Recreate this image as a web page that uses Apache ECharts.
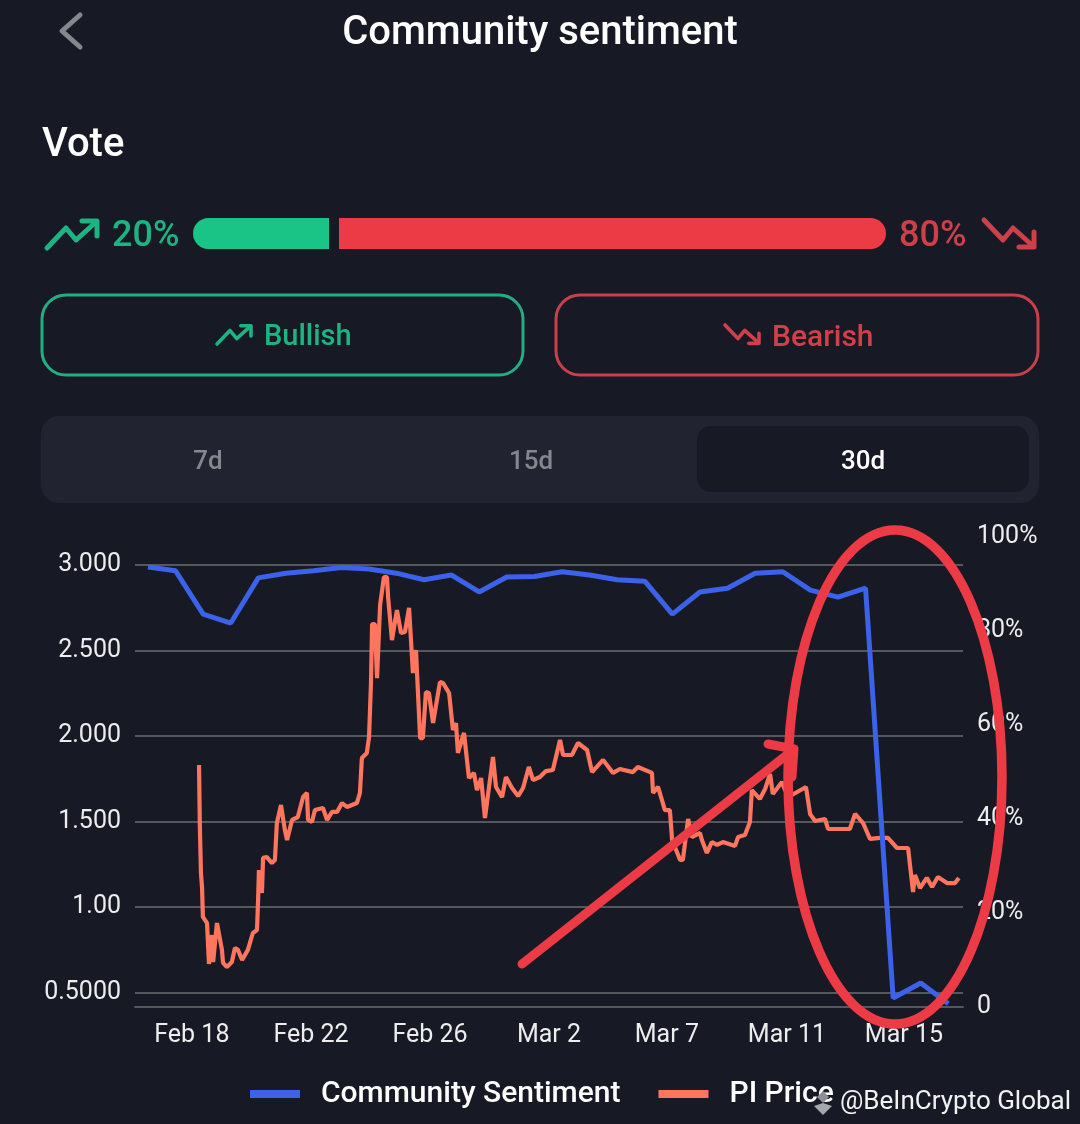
<!DOCTYPE html>
<html>
<head>
<meta charset="utf-8">
<title>Community sentiment</title>
<style>
  html, body { margin: 0; padding: 0; background: #171925; }
  #main { width: 1080px; height: 1124px; }
</style>
<script src="https://cdn.jsdelivr.net/npm/echarts@6/dist/echarts.min.js"></script>
</head>
<body>
<div id="main"></div>
<script>
// x ticks sit between the daily points, days are counted from the first vote
const xTickDays = [1.59, 5.91, 10.22, 14.53, 18.80, 23.15, 27.39];
const xTickLabels = ['Feb 18', 'Feb 22', 'Feb 26', 'Mar 2', 'Mar 7', 'Mar 11', 'Mar 15'];
const priceTicks = [0.5, 1, 1.5, 2, 2.5, 3];
const priceTickLabels = ['0.5000', '1.00', '1.500', '2.000', '2.500', '3.000'];

const sentiment = [93.6, 92.8, 83.6, 81.7, 91.3, 92.3, 92.8, 93.5, 93.2, 92.3,
  90.9, 91.9, 88.3, 91.5, 91.6, 92.6, 91.9, 90.9, 90.6, 83.6,
  88.3, 89.1, 92.3, 92.6, 88.7, 87.2, 89.1, 1.9, 5.1, 0.7];

const priceDays = [1.85, 1.88, 1.92, 1.96, 1.99, 2.14, 2.21, 2.32, 2.36, 2.50, 2.54, 2.68, 2.72, 2.86, 3.04, 3.15, 3.26, 3.41, 3.62, 3.80,
  3.95, 3.99, 4.02, 4.13, 4.17, 4.31, 4.49, 4.60, 4.67, 4.82, 4.89, 4.96, 5.04, 5.22, 5.43, 5.62, 5.76, 5.80, 5.94, 6.05,
  6.34, 6.49, 6.67, 6.85, 7.03, 7.21, 7.57, 7.68, 7.75, 7.93, 8.01, 8.08, 8.12, 8.22, 8.30, 8.41, 8.55, 8.66, 8.70, 8.84,
  9.02, 9.17, 9.31, 9.46, 9.53, 9.60, 9.71, 9.75, 9.86, 9.96, 10.07, 10.18, 10.33, 10.40, 10.58, 10.69, 10.91, 11.05, 11.16, 11.23,
  11.45, 11.63, 11.81, 11.92, 12.07, 12.21, 12.50, 12.61, 12.83, 12.97, 13.19, 13.41, 13.59, 13.80, 13.95, 14.20, 14.42, 14.67, 14.93, 15.04,
  15.36, 15.58, 15.91, 16.09, 16.49, 16.85, 17.10, 17.57, 17.75, 18.26, 18.30, 18.48, 18.73, 18.91, 18.99, 19.28, 19.38, 19.57, 19.71, 20.00,
  20.07, 20.25, 20.43, 20.62, 20.83, 21.27, 21.38, 21.63, 21.81, 21.88, 22.17, 22.36, 22.54, 22.64, 22.97, 23.08, 23.33, 23.84, 23.99, 24.17,
  24.53, 24.64, 25.43, 25.62, 25.91, 26.16, 26.52, 26.81, 27.14, 27.54, 27.72, 27.79, 27.97, 28.22, 28.41, 28.62, 28.95, 29.24, 29.38];
const priceValues = [1.830, 1.468, 1.199, 1.111, 0.942, 0.906, 0.667, 0.836, 0.678, 0.906, 0.906, 0.749, 0.673, 0.649, 0.678, 0.760, 0.749, 0.690, 0.749, 0.848,
  0.865, 1.041, 1.216, 1.082, 1.287, 1.292, 1.257, 1.275, 1.491, 1.596, 1.596, 1.450, 1.392, 1.509, 1.526, 1.643, 1.667, 1.509, 1.497, 1.567,
  1.579, 1.509, 1.556, 1.556, 1.608, 1.585, 1.608, 1.667, 1.871, 1.901, 1.994, 2.310, 2.655, 2.655, 2.339, 2.766, 2.930, 2.930, 2.813, 2.561,
  2.737, 2.602, 2.608, 2.749, 2.749, 2.368, 2.503, 2.503, 1.988, 1.988, 2.257, 2.251, 2.076, 2.082, 2.316, 2.310, 2.251, 2.035, 2.076, 1.901,
  2.018, 1.754, 1.784, 1.684, 1.754, 1.520, 1.877, 1.702, 1.643, 1.760, 1.696, 1.649, 1.696, 1.819, 1.743, 1.760, 1.795, 1.801, 1.977, 1.889,
  1.889, 1.959, 1.918, 1.789, 1.860, 1.784, 1.807, 1.789, 1.819, 1.784, 1.667, 1.702, 1.567, 1.567, 1.392, 1.275, 1.275, 1.515, 1.409, 1.433,
  1.392, 1.316, 1.380, 1.363, 1.380, 1.357, 1.409, 1.421, 1.497, 1.684, 1.632, 1.690, 1.778, 1.661, 1.731, 1.684, 1.655, 1.702, 1.544, 1.503,
  1.515, 1.456, 1.456, 1.544, 1.491, 1.398, 1.404, 1.404, 1.345, 1.345, 1.088, 1.187, 1.111, 1.170, 1.117, 1.175, 1.140, 1.140, 1.170];

const BG = '#171925';
const GREEN = '#19C586';
const RED = '#EC3B45';
const UI_FONT = 'Roboto';

function text(str, x, y, size, color, weight, align) {
  return {
    type: 'text',
    z: 20,
    style: {
      text: str, x: x, y: y + Math.round(size * 0.08), fill: color,
      font: (weight || 500) + ' ' + size + 'px ' + UI_FONT,
      align: align || 'left', verticalAlign: 'middle'
    }
  };
}

function stroke(type, shape, color, width, z) {
  return {
    type: type,
    z: z || 20,
    shape: shape,
    style: { fill: 'none', stroke: color, lineWidth: width, lineCap: 'round', lineJoin: 'round' }
  };
}

function box(x, y, w, h, r, fill) {
  return { type: 'rect', z: 10, shape: { x: x, y: y, width: w, height: h, r: r }, style: { fill: fill } };
}

// small trend arrows, drawn in a 50 wide, 28 high box and flipped for the bearish one
function trendIcon(x, y, scale, color, down) {
  const place = function (p) {
    return [x + p[0] * scale, y + (down ? 28 - p[1] : p[1]) * scale];
  };
  const width = 4.5 * scale + 0.5;
  return [
    stroke('polyline', { points: [[0, 28], [19, 8], [29, 20], [49, 2]].map(place) }, color, width),
    stroke('polyline', { points: [[35, 1], [50, 1], [50, 16]].map(place) }, color, width)
  ];
}

const uiGraphics = [
  stroke('polyline', { points: [[80, 15], [62, 31], [80, 47]] }, '#85878F', 5),
  text('Community sentiment', 540, 31, 40, '#FFFFFF', 500, 'center'),
  text('Vote', 42, 143, 40, '#FFFFFF', 500),

  text('20%', 112, 234, 36, '#1DB482', 500),
  box(193, 218, 136, 31, [15.5, 0, 0, 15.5], GREEN),
  box(339, 218, 547, 31, [0, 15.5, 15.5, 0], RED),
  text('80%', 899, 234, 36, '#CC4049', 500),

  { type: 'rect', z: 10, shape: { x: 42, y: 295, width: 481, height: 80, r: 24 }, style: { fill: 'none', stroke: '#23AD80', lineWidth: 3 } },
  { type: 'rect', z: 10, shape: { x: 556, y: 295, width: 482, height: 80, r: 24 }, style: { fill: 'none', stroke: '#C8404A', lineWidth: 3 } },
  text('Bullish', 264, 336, 29, '#1DB482', 500),
  text('Bearish', 772, 336, 30, '#D1404A', 500),

  box(41, 416, 998, 87, 18, '#212430'),
  box(697, 426, 332, 66, 14, BG),
  text('7d', 208, 460, 26, '#85878F', 500, 'center'),
  text('15d', 531, 460, 26, '#85878F', 500, 'center'),
  text('30d', 863, 460, 26, '#FFFFFF', 500, 'center'),

  // hand drawn marks over the chart
  stroke('ellipse', { cx: 895, cy: 777, rx: 107, ry: 247 }, RED, 9.5, 100),
  stroke('line', { x1: 522, y1: 964, x2: 793, y2: 750 }, RED, 9, 100),
  stroke('polyline', { points: [[768, 744], [794, 749], [792, 777]] }, RED, 9, 100),

  // watermark
  { type: 'polygon', z: 110, shape: { points: [[823, 1091], [829, 1097], [823, 1103], [817, 1097]] }, style: { fill: '#8E9097' } },
  { type: 'polygon', z: 110, shape: { points: [[823, 1103], [832, 1106], [823, 1115], [814, 1106]] }, style: { fill: '#A5A7AD' } },
  { type: 'text', z: 110, style: { text: '@BeInCrypto Global', x: 840, y: 1102, fill: '#F2F2F2', font: '400 26px ' + UI_FONT, align: 'left', verticalAlign: 'middle' } }
].concat(
  trendIcon(47, 220, 1, '#1DB482', false),
  trendIcon(984, 220, 1, '#CC4049', true),
  trendIcon(217, 325, 0.68, '#1DB482', false),
  trendIcon(725, 325, 0.68, '#D1404A', true)
);

const chart = echarts.init(document.getElementById('main'), null, { renderer: 'canvas' });

const option = {
  animation: false,
  backgroundColor: BG,
  textStyle: { fontFamily: UI_FONT },
  grid: { left: 135, right: 117, top: 537, bottom: 117, containLabel: false },
  legend: {
    left: 250,
    top: 1079,
    padding: 0,
    icon: 'rect',
    itemWidth: 50,
    itemHeight: 8,
    itemGap: 38,
    data: ['Community Sentiment', 'PI Price'],
    textStyle: { color: '#FFFFFF', fontSize: 30, fontWeight: 500, fontFamily: UI_FONT, padding: [0, 0, 0, 16] }
  },
  xAxis: {
    type: 'value',
    min: -0.47,
    max: 29.53,
    splitLine: { show: false },
    axisLine: { show: true, onZero: false, lineStyle: { color: '#55575F', width: 2 } },
    axisTick: { show: false, customValues: xTickDays },
    axisLabel: {
      customValues: xTickDays,
      color: '#EDEDED',
      fontSize: 25,
      margin: 16,
      formatter: function (v) { return xTickLabels[xTickDays.indexOf(v)]; }
    }
  },
  yAxis: [
    {
      type: 'value',
      min: 0.415,
      max: 3.164,
      axisLine: { show: false },
      axisTick: { show: false, customValues: priceTicks },
      splitLine: { show: true, lineStyle: { color: '#55575F', width: 2 } },
      axisLabel: {
        customValues: priceTicks,
        color: '#EDEDED',
        fontSize: 25,
        margin: 14,
        formatter: function (v) { return priceTickLabels[priceTicks.indexOf(v)]; }
      }
    },
    {
      type: 'value',
      position: 'right',
      min: 0,
      max: 100,
      interval: 20,
      axisLine: { show: false },
      axisTick: { show: false },
      splitLine: { show: false },
      axisLabel: {
        color: '#EDEDED',
        fontSize: 25,
        margin: 14,
        formatter: function (v) { return v === 0 ? '0' : v + '%'; }
      }
    }
  ],
  series: [
    {
      name: 'PI Price',
      type: 'line',
      yAxisIndex: 0,
      showSymbol: false,
      data: priceDays.map(function (d, i) { return [d, priceValues[i]]; }),
      itemStyle: { color: '#FF755E' },
      lineStyle: { color: '#FF755E', width: 4.2 }
    },
    {
      name: 'Community Sentiment',
      type: 'line',
      yAxisIndex: 1,
      showSymbol: false,
      data: sentiment.map(function (v, i) { return [i, v]; }),
      itemStyle: { color: '#3B62E8' },
      lineStyle: { color: '#3B62E8', width: 5 }
    }
  ],
  graphic: uiGraphics
};

chart.setOption(option);
</script>
</body>
</html>
